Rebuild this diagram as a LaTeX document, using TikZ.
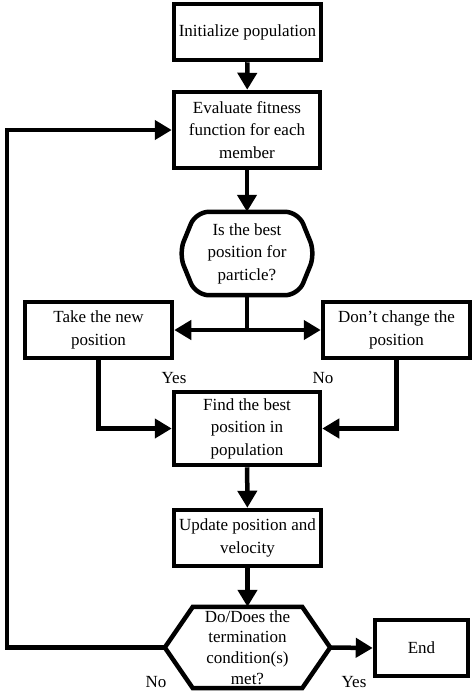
\documentclass[tikz,border=0pt]{standalone}
\usepackage{fontspec}
\setmainfont{Liberation Serif}
\usetikzlibrary{arrows.meta,calc}
\tikzset{
  txt/.style={font=\fontsize{17}{22.5}\selectfont, align=center, inner sep=0pt},
  box/.style={txt, draw, line width=4.5pt},
  hexnode/.style={txt},
  arr/.style={line width=4.5pt, -{Triangle[length=17pt,width=19pt]}},
  ln/.style={line width=4.5pt},
  lbl/.style={font=\fontsize{17}{20}\selectfont, inner sep=0pt},
}
\begin{document}
\begin{tikzpicture}[x=1pt,y=-1pt]
\useasboundingbox (0,0) rectangle (474,697);
\fill[white] (0,0) rectangle (474,697);

\node[box, minimum width=147pt, minimum height=56pt] (init) at (247.5,32) {Initialize population};
\node[box, minimum width=146pt, minimum height=76pt] (eval) at (247,130) {Evaluate fitness\\function for each\\member};
\node[hexnode, minimum width=136pt, minimum height=83pt] (h1) at (247,253.5) {Is the best\\position for\\particle?};
\node[box, minimum width=147pt, minimum height=56pt] (take) at (98.5,330) {Take the new\\position};
\node[box, minimum width=147pt, minimum height=56pt] (dont) at (396.5,330) {Don’t change the\\position};
\node[box, minimum width=146pt, minimum height=73pt] (find) at (247,428.5) {Find the best\\position in\\population};
\node[box, minimum width=147pt, minimum height=56pt] (upd) at (247.5,538) {Update position and\\velocity};
\node[hexnode, font=\fontsize{17}{20.7}\selectfont, minimum width=165pt, minimum height=81pt] (h2) at (247.5,647.5) {Do/Does the\\termination\\condition(s)\\met?};
\node[box, minimum width=93pt, minimum height=56pt] (end) at (421.5,648) {End};

% hexagon outlines
\draw[ln, rounded corners=13pt] ($(h1.north west)+(17,0)$) -- ($(h1.north east)+(-17,0)$) -- (h1.east)
  -- ($(h1.south east)+(-17,0)$) -- ($(h1.south west)+(17,0)$) -- (h1.west) -- cycle;
\draw[ln] ($(h2.north west)+(28,0)$) -- ($(h2.north east)+(-28,0)$) -- (h2.east)
  -- ($(h2.south east)+(-28,0)$) -- ($(h2.south west)+(28,0)$) -- (h2.west) -- cycle;

% labels
\node[lbl] (yes1) at (174,378) {Yes};
\node[lbl] (no1) at (323,378) {No};
\node[lbl] (no2) at (156,682) {No};
\node[lbl] (yes2) at (354,682) {Yes};

% connectors
\coordinate (j) at (h1.south |- take.east);
\coordinate (L) at (7,0);
\draw[arr] (init) -- (eval);
\draw[arr] (eval) -- (h1.north);
\draw[ln] (h1.south) -- (j);
\draw[arr] (j) -- (take.east);
\draw[arr] (j) -- (dont.west);
\draw[arr] (take.south) |- (find.west);
\draw[arr] (dont.south) |- (find.east);
\draw[arr] (find) -- (upd);
\draw[arr] (upd) -- (h2.north);
\draw[arr] (h2.east) -- (end.west);
\draw[arr] (h2.west) -- (h2.west -| L) |- (eval.west);
\end{tikzpicture}
\end{document}
